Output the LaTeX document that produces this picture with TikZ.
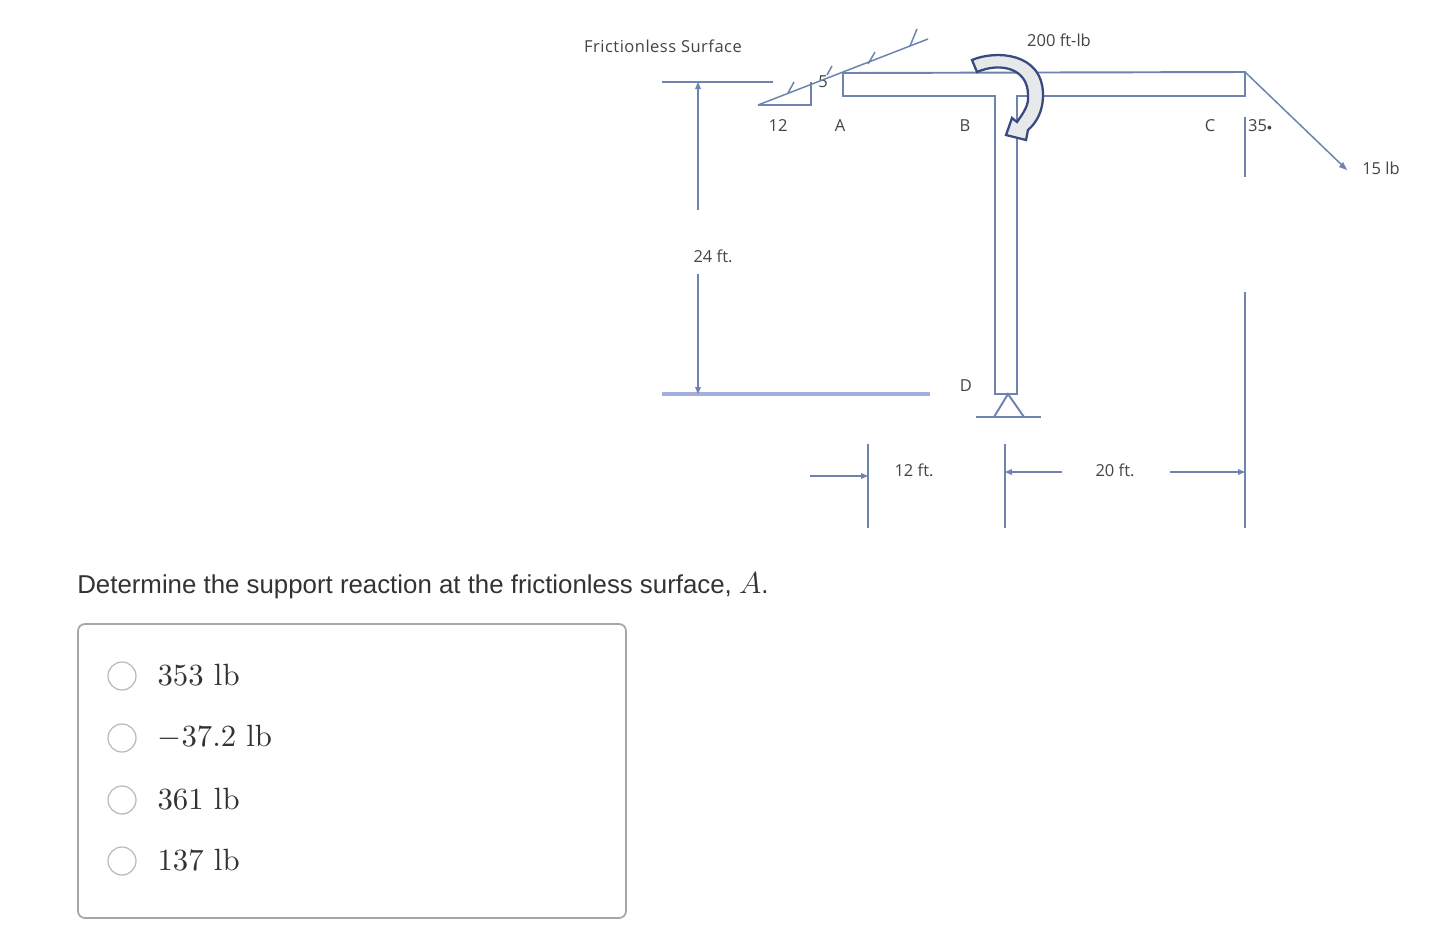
\documentclass[tikz,border=0pt]{standalone}
\usepackage{amsmath}
\usepackage{fontspec}
\newfontfamily\labelfont{Open Sans}
\newfontfamily\questfont{Liberation Sans}
\definecolor{steel}{HTML}{6E84AE}
\definecolor{lavender}{HTML}{A3AEDD}
\definecolor{momentblue}{HTML}{3A4A80}
\definecolor{momentfill}{HTML}{E6E9EA}
\definecolor{inktext}{HTML}{333333}
\definecolor{labeltext}{HTML}{444444}
\begin{document}
\begin{tikzpicture}[x=0.02cm,y=0.02cm,
  steelline/.style={draw=steel,line width=1.1pt},
  thinline/.style={draw=steel,line width=0.85pt},
  tiplabel/.style={inner sep=0pt,text=labeltext,font=\labelfont\fontsize{9.4}{11}\selectfont},
  question/.style={inner sep=0pt,anchor=west,text=inktext,font=\questfont\fontsize{14.7}{17}\selectfont},
  answer/.style={inner sep=0pt,anchor=west,text=inktext,scale=1.75,font=\fontsize{10}{12}\selectfont},
  radio/.style={draw=black!27,fill=white,line width=0.7pt}]
\useasboundingbox (0,0) rectangle (1430,-934);
\fill [white] (0,0) rectangle (1430,-934);
% labels of the drawing
\node [tiplabel] (surfacelabel) at (663,-46) {\addfontfeature{LetterSpace=3}Frictionless Surface};
\node [tiplabel] (five) at (823,-82) {5};
\node [tiplabel] (twelve) at (778,-126) {12};
\node [tiplabel] (pointa) at (840,-126) {A};
\node [tiplabel] (pointb) at (965,-126) {B};
\node [tiplabel] (pointc) at (1210,-126) {C};
\node [tiplabel] (pointd) at (966,-386) {D};
\node [tiplabel] (angle) at (1260,-126) {35\raisebox{1pt}{\scalebox{0.6}{$\bullet$}}};
\node [tiplabel] (force) at (1381,-168) {15 lb};
\node [tiplabel] (moment) at (1059,-40) {200 ft-lb};
\node [tiplabel] (heightdim) at (713,-256) {24 ft.};
\node [tiplabel] (leftdim) at (914,-470) {12 ft.};
\node [tiplabel] (rightdim) at (1115,-470) {20 ft.};
% frame
\draw [steelline] (843,-73) -- (1245,-72) -- (1245,-96) -- (1017,-96) -- (1017,-394)
  -- (995,-394) -- (995,-96) -- (843,-96) -- cycle;
% inclined surface
\draw [thinline] (758,-105) -- (928,-39);
\draw [thinline] (758,-105) -- (811,-105) -- (811,-82);
\draw [thinline] (788,-93) -- (794,-82);
\draw [thinline] (827,-75) -- (832,-66);
\draw [thinline] (868,-64) -- (875,-52);
\draw [thinline] (910,-46) -- (917,-29);
% support
\draw [steelline] (994,-417) -- (1008,-394) -- (1024,-417);
\draw [steelline] (976,-417) -- (1041,-417);
% height dimension
\draw [steelline] (662,-82) -- (773,-82);
\draw [draw=lavender,line width=2pt] (662,-394) -- (930,-394);
\draw [thinline] (698,-210) -- (698,-84);
\fill [steel] (698,-82) -- (695,-89) -- (701,-89);
\draw [thinline] (698,-274) -- (698,-392);
\fill [steel] (698,-394) -- (695,-387) -- (701,-387);
% width dimensions
\draw [thinline] (868,-444) -- (868,-528);
\draw [thinline] (1005,-444) -- (1005,-528);
\draw [thinline] (1245,-292) -- (1245,-528);
\draw [thinline] (1245,-117) -- (1245,-177);
\draw [thinline] (810,-476) -- (866,-476);
\fill [steel] (868,-476) -- (861,-473) -- (861,-479);
\draw [thinline] (1062,-472) -- (1007,-472);
\fill [steel] (1005,-472) -- (1012,-469) -- (1012,-475);
\draw [thinline] (1170,-472) -- (1243,-472);
\fill [steel] (1245,-472) -- (1238,-469) -- (1238,-475);
% applied force
\draw [thinline] (1245,-72) -- (1345,-168);
\fill [steel] (1347,-170) -- (1339,-167) -- (1343,-162);
% applied moment
\draw [draw=momentblue,fill=momentfill,line width=1.3pt] (972,-60)
  .. controls (995,-50) and (1043,-52) .. (1043,-95)
  .. controls (1043,-112) and (1036,-123) .. (1028,-130)
  -- (1026,-140) -- (1006,-135) -- (1012,-118) -- (1017,-122)
  .. controls (1024,-112) and (1029,-105) .. (1028,-95)
  .. controls (1028,-68) and (1000,-62) .. (977,-72) -- cycle;
% question
\node [question] (prompt) at (77,-586) {Determine the support reaction at the frictionless surface, {\fontsize{18}{22}\selectfont$A$}.};
\draw [draw=black!35,line width=1pt,rounded corners=4pt] (78,-624) rectangle (626,-918);
\draw [radio] (122,-676) circle (0.28cm);
\draw [radio] (122,-738) circle (0.28cm);
\draw [radio] (122,-800) circle (0.28cm);
\draw [radio] (122,-861) circle (0.28cm);
\node [answer] (first) at (157,-675) {$353$ lb};
\node [answer] (second) at (157,-737) {$-37.2$ lb};
\node [answer] (third) at (157,-799) {$361$ lb};
\node [answer] (fourth) at (157,-860) {$137$ lb};
\end{tikzpicture}
\end{document}
